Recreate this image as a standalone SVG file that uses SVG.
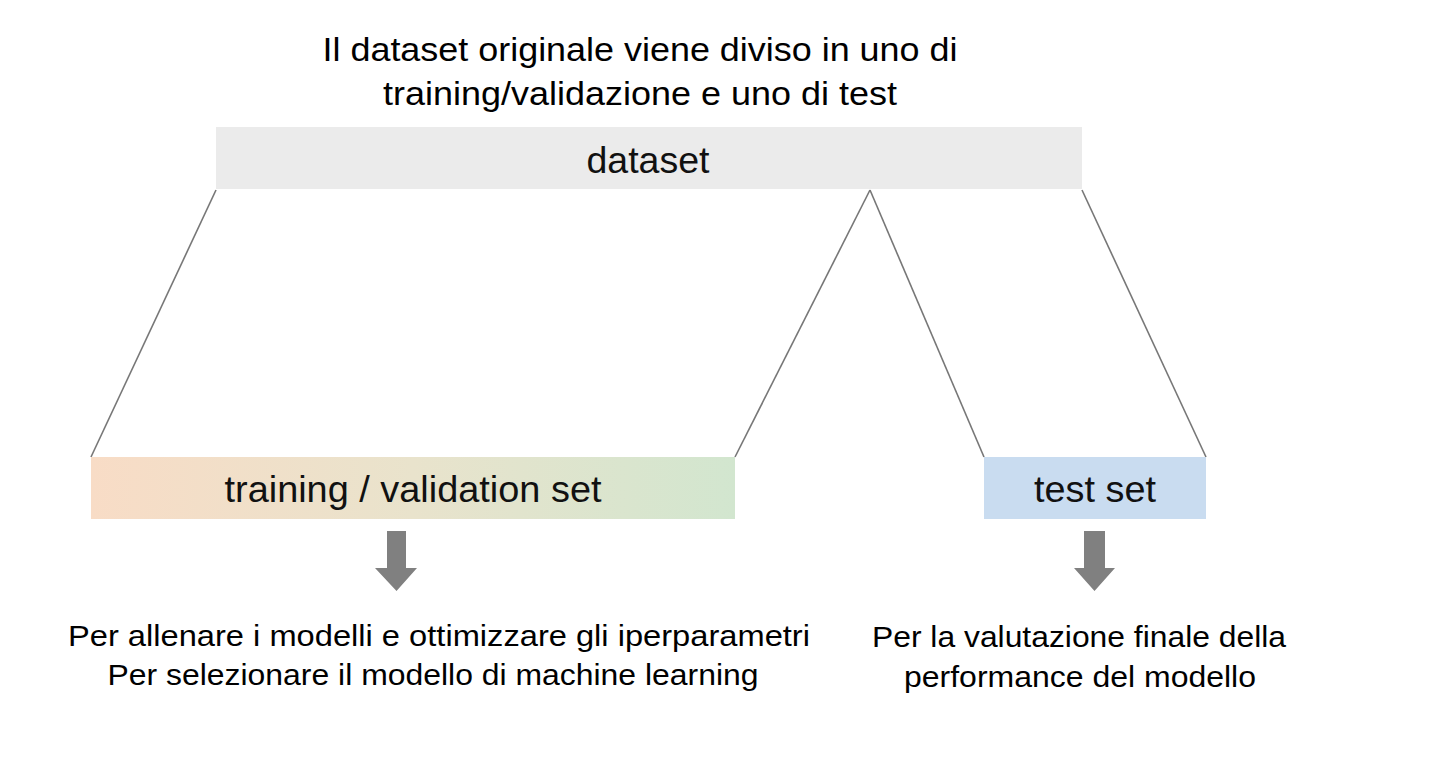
<svg xmlns="http://www.w3.org/2000/svg" width="1440" height="778" viewBox="0 0 1440 778">
<defs>
<linearGradient id="tv" x1="0" y1="0" x2="1" y2="0">
<stop offset="0" stop-color="#f8dcc6"/>
<stop offset="0.5" stop-color="#e9e3cc"/>
<stop offset="1" stop-color="#d2e6cf"/>
</linearGradient>
<style>
text{font-family:"Liberation Sans",Arial,sans-serif;fill:#000;text-anchor:middle}
.t{font-size:33px}
.b{font-size:36px;fill:#111}
.d{font-size:30px}
.ln{stroke:#777;stroke-width:1.6;fill:none}
.ar{fill:#808080}
</style>
</defs>
<rect width="1440" height="778" fill="#fff"/>
<g id="title">
<text class="t" x="640" y="61" textLength="635" lengthAdjust="spacingAndGlyphs">Il dataset originale viene diviso in uno di</text>
<text class="t" x="640" y="105" textLength="514" lengthAdjust="spacingAndGlyphs">training/validazione e uno di test</text>
</g>
<g id="connectors">
<line class="ln" x1="216" y1="190" x2="91" y2="457"/>
<line class="ln" x1="870" y1="190" x2="735" y2="457"/>
<line class="ln" x1="870" y1="190" x2="984" y2="457"/>
<line class="ln" x1="1082" y1="190" x2="1206" y2="457"/>
<polygon class="ar" points="387,531 406,531 406,568 417,568 396.5,591 375,568 387,568"/>
<polygon class="ar" points="1084,531 1105,531 1105,568 1115,568 1094.5,591 1074,568 1084,568"/>
</g>
<g id="dataset">
<rect x="216" y="127" width="866" height="62" fill="#ebebeb"/>
<text class="b" x="648" y="173" textLength="123" lengthAdjust="spacingAndGlyphs">dataset</text>
</g>
<g id="trainval">
<rect x="91" y="457" width="644" height="62" fill="url(#tv)"/>
<text class="b" x="413" y="502" textLength="377" lengthAdjust="spacingAndGlyphs">training / validation set</text>
</g>
<g id="testset">
<rect x="984" y="457" width="222" height="62" fill="#c9dcf0"/>
<text class="b" x="1095" y="502" textLength="122" lengthAdjust="spacingAndGlyphs">test set</text>
</g>
<g id="trainval-desc">
<text class="d" x="439" y="646" textLength="742" lengthAdjust="spacingAndGlyphs">Per allenare i modelli e ottimizzare gli iperparametri</text>
<text class="d" x="433" y="685" textLength="651" lengthAdjust="spacingAndGlyphs">Per selezionare il modello di machine learning</text>
</g>
<g id="test-desc">
<text class="d" x="1079" y="647" textLength="414" lengthAdjust="spacingAndGlyphs">Per la valutazione finale della</text>
<text class="d" x="1080" y="687" textLength="352" lengthAdjust="spacingAndGlyphs">performance del modello</text>
</g>
</svg>
